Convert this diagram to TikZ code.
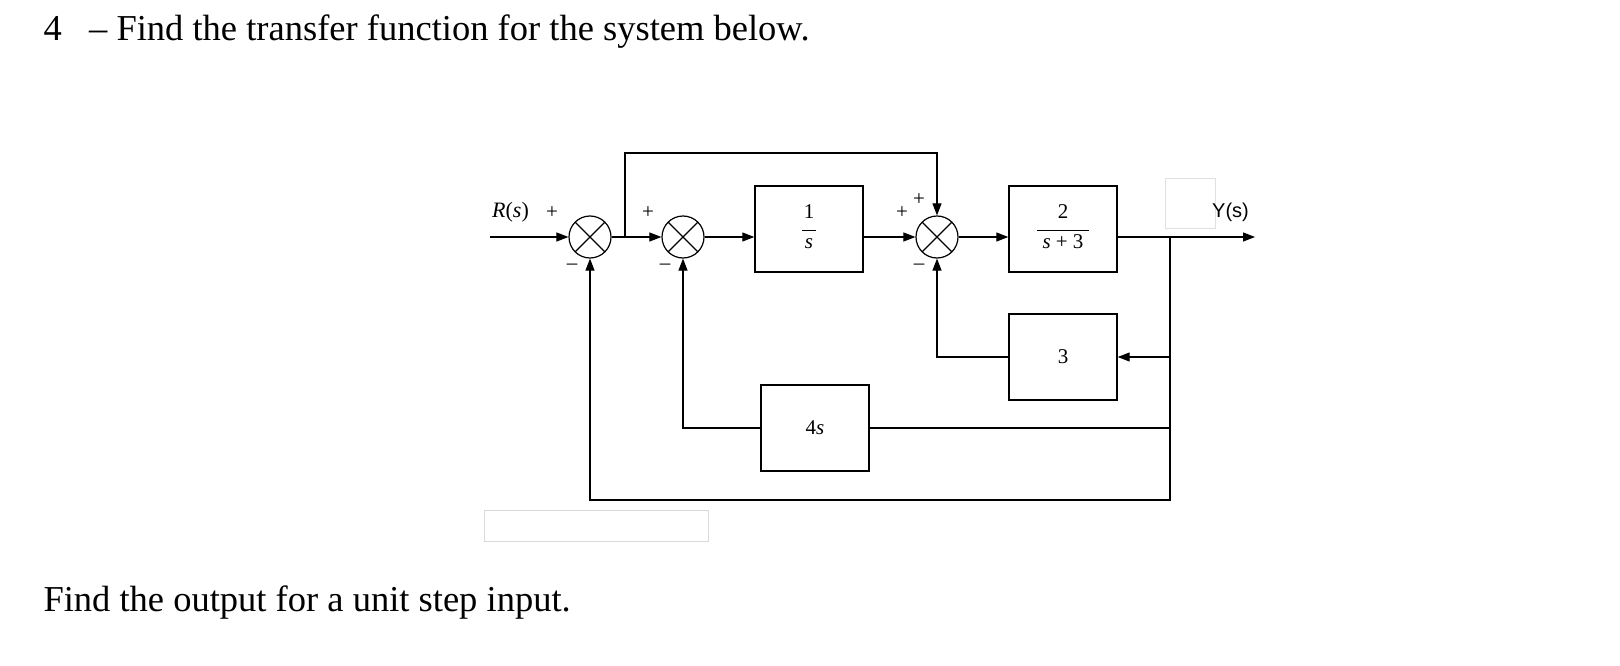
\documentclass[tikz,border=0pt]{standalone}
\usepackage{fontspec}
\setmainfont{Liberation Serif}
\newfontfamily\sansf{Liberation Sans}
\usetikzlibrary{arrows.meta}
\begin{document}
\begin{tikzpicture}[x=1pt,y=-1pt,
  sum/.style={circle,draw,line width=1.2pt,minimum size=42pt,inner sep=0pt,
    path picture={\draw[line width=1.1pt] (path picture bounding box.north west)--(path picture bounding box.south east)
      (path picture bounding box.north east)--(path picture bounding box.south west);}},
  blk/.style={draw,line width=1.4pt,minimum width=108pt,minimum height=86pt,inner sep=0pt,font=\fontsize{21}{24}\selectfont},
  ln/.style={line width=1.1pt},
  ar/.style={ln,-{Triangle[length=12pt,width=9pt]}},
  sg/.style={font=\fontsize{21}{22}\selectfont,inner sep=0pt}]
\useasboundingbox (0,0) rectangle (1620,666);
\node[anchor=west,font=\fontsize{36.5}{40}\selectfont] (title) at (40,32) {4\hspace{0.75em}– Find the transfer function for the system below.};
\node[anchor=west,font=\fontsize{36.5}{40}\selectfont] (q) at (40,603) {Find the output for a unit step input.};
\draw[black!15,line width=0.8pt] (484,510) rectangle (708,541);
\draw[black!12,line width=0.8pt] (1165,178) rectangle (1215,228);
\node[sum] (s1) at (590,237) {};
\node[sum] (s2) at (683,237) {};
\node[sum] (s3) at (937,237) {};
\node[blk] (b1) at (809,229) {\begin{tabular}{@{}c@{}}1\\[-12pt]\rule{14pt}{0.8pt}\\[-6pt]\textit{s}\end{tabular}};
\node[blk] (b2) at (1063,229) {\begin{tabular}{@{}c@{}}2\\[-12pt]\rule{52pt}{0.8pt}\\[-6pt]\textit{s} + 3\end{tabular}};
\node[blk] (b3) at (1063,357) {3};
\node[blk] (b4) at (815,428) {4\textit{s}};
\coordinate (in) at (490,237);
\coordinate (po) at (1170,237);
\coordinate (out) at (1255,237);
\coordinate (ff) at (625,237);
\node[anchor=west,font=\fontsize{22}{24}\selectfont,inner sep=0pt] (rl) at (492,212) {\textit{R}(\textit{s})};
\node[anchor=west,font=\sansf\fontsize{20}{22}\selectfont,inner sep=0pt] (yl) at (1212,212) {Y(s)};
\draw[ar] (in) -- (s1);
\draw[ar] (s1) -- (s2);
\draw[ar] (s2) -- (b1.west|-s2);
\draw[ar] (b1.east|-s3) -- (s3);
\draw[ar] (s3) -- (b2.west|-s3);
\draw[ar] (b2.east|-po) -- (out);
\draw[ar] (ff) |- (625,153) -| (s3);
\draw[ar] (po) |- (b3.east);
\draw[ar] (b3.west) -| (s3);
\draw[ln] (po) |- (b4.east);
\draw[ar] (b4.west) -| (s2);
\draw[ar] (po) |- (590,500) -- (s1);
\node[sg] at (552,213) {+};
\node[sg] at (572,267) {–};
\node[sg] at (648,213) {+};
\node[sg] at (665,267) {–};
\node[sg] at (902,213) {+};
\node[sg] at (919,200) {+};
\node[sg] at (919,267) {–};
\end{tikzpicture}
\end{document}
